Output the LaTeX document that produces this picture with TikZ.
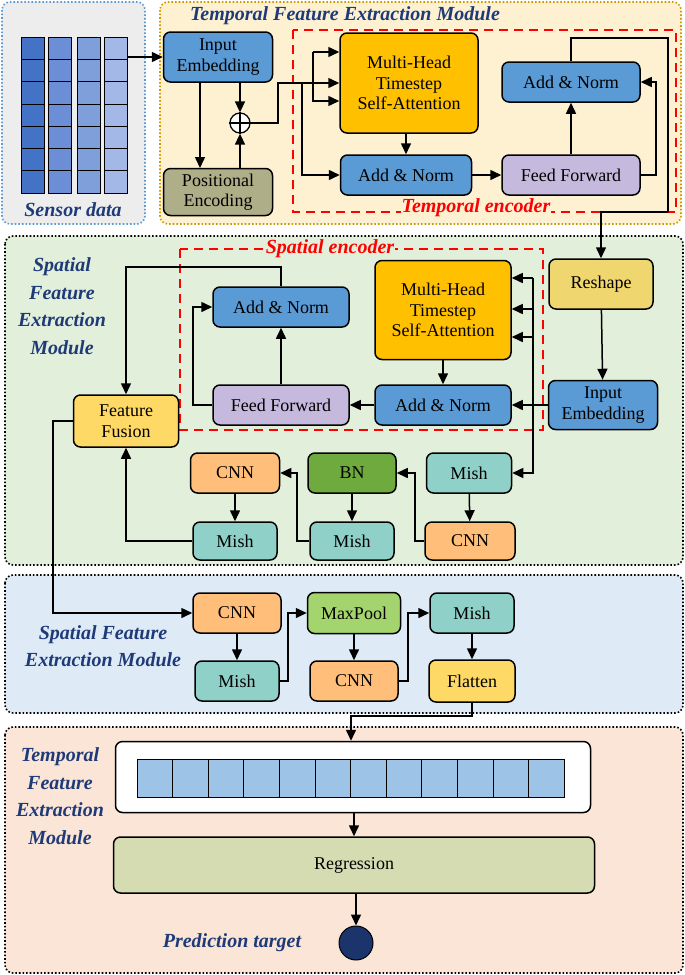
\documentclass[tikz,border=0pt]{standalone}
\usepackage{fontspec}
\setmainfont{Liberation Serif}
\usetikzlibrary{arrows.meta,calc}
\definecolor{bBlue}{HTML}{5B9BD5}
\definecolor{bOrange}{HTML}{FFC000}
\definecolor{bLav}{HTML}{C5B9DD}
\definecolor{bOlive}{HTML}{AEAE88}
\definecolor{bSalmon}{HTML}{FFBE7A}
\definecolor{bTeal}{HTML}{8FD0C8}
\definecolor{bGreen}{HTML}{6FAA3E}
\definecolor{bLGreen}{HTML}{A4D46E}
\definecolor{bYellow}{HTML}{FFD966}
\definecolor{bReshape}{HTML}{EFD66E}
\definecolor{bCell}{HTML}{9DC3E6}
\definecolor{bReg}{HTML}{D5DCB2}
\definecolor{navy}{HTML}{1F3A78}
\definecolor{pGray}{HTML}{EDEDED}
\definecolor{pYel}{HTML}{FDF1D2}
\definecolor{pGreen}{HTML}{E2EFDA}
\definecolor{pBlue}{HTML}{DEEBF7}
\definecolor{pPeach}{HTML}{FBE5D6}
\begin{document}
\begin{tikzpicture}[x=1pt,y=-1pt,
  box/.style={draw=black,line width=1.5pt,rounded corners=7pt,align=center,font=\fontsize{18}{20.5}\selectfont,inner sep=1pt},
  panel/.style={line width=1.6pt,dotted,rounded corners=8pt},
  ttl/.style={font=\bfseries\itshape\fontsize{20}{27.5}\selectfont,text=navy,align=center},
  enc/.style={draw=red,dashed,line width=1.2pt,dash pattern=on 9pt off 6pt},
  etl/.style={font=\bfseries\itshape\fontsize{20}{22}\selectfont,text=red,fill=#1,inner sep=1pt},
  ar/.style={-{Triangle[length=11pt,width=10pt]},line width=1.5pt},
  ln/.style={line width=1.5pt}]
\useasboundingbox (0,0) rectangle (685,975);
% panels
\draw[panel,draw=bBlue,fill=pGray] (2,2) rectangle (145,224);
\draw[panel,draw=bOrange!80!black,fill=pYel] (160,2) rectangle (681,224);
\draw[panel,fill=pGreen] (5,236) rectangle (683,565);
\draw[panel,fill=pBlue] (5,575) rectangle (683,713);
\draw[panel,fill=pPeach] (5,727) rectangle (683,973);
% sensor columns
\foreach \xa/\c in {21/4472C4,48/6C8ED6,77/7F9FDB,104/A3B8E6}{
  \definecolor{cc}{HTML}{\c}
  \foreach \r in {0,...,6}{
    \draw[fill=cc,line width=0.8pt] (\xa,37+\r*22.3) rectangle (\xa+23,37+\r*22.3+22.3);}}
\node[ttl] (sd) at (73,210) {Sensor data};
\coordinate (sdr) at (127,57);
\node[ttl] (t1) at (345,16) {Temporal Feature Extraction Module};
% temporal encoder box
\draw[enc] (293,30) rectangle (676,212);
\node[etl=pYel] (tel) at (476,208) {Temporal encoder};
\node[box,fill=bBlue,minimum width=109pt,minimum height=50pt] (ie1) at (218,57) {Input\\Embedding};
\node[box,fill=bOlive,minimum width=109pt,minimum height=47pt] (pe) at (218,192) {Positional\\Encoding};
\node[draw,circle,line width=1.3pt,minimum size=20pt,inner sep=0pt,fill=white] (op) at (240,123) {};
\draw[line width=1.2pt] (op.north)--(op.south) (op.west)--(op.east);
\node[box,fill=bOrange,minimum width=138pt,minimum height=100pt] (mha1) at (409,83) {Multi-Head\\Timestep\\Self-Attention};
\node[box,fill=bBlue,minimum width=131pt,minimum height=40pt] (an1) at (406,175) {Add \& Norm};
\node[box,fill=bLav,minimum width=138pt,minimum height=40pt] (ff1) at (571,175) {Feed Forward};
\node[box,fill=bBlue,minimum width=138pt,minimum height=40pt] (an2) at (571,82) {Add \& Norm};
\draw[ar] (sdr) -- (ie1.west|-sdr);
\draw[ar] (200,82) -- (200,168);
\draw[ar] (240,82) -- (op.north);
\draw[ar] (240,168) -- (op.south);
\draw[ln] (op.east) -- (278,123) -- (278,83) -- (313,83);
\draw[ar] (302,83) |- (an1.west);
\draw[ar] (313,52) -- (mha1.west|-0,52);
\draw[ar] (313,83) -- (mha1.west|-0,83);
\draw[ar] (313,52) -- (313,101) -- (mha1.west|-0,101);
\draw[ar] (mha1.south-|an1) -- (an1.north);
\draw[ar] (an1) -- (ff1);
\draw[ar] (ff1) -- (an2);
\draw[ar] (ff1.east) -- (656,175) -- (656,82) -- (an2.east);
% section 2
\node[ttl] (t2) at (62,306) {Spatial\\Feature\\Extraction\\Module};
\draw[enc] (180,249) rectangle (543,430);
\node[etl=pGreen] (sel) at (330,249) {Spatial encoder};
\node[box,fill=bReshape,minimum width=104pt,minimum height=50pt] (rs) at (601,284) {Reshape};
\node[box,fill=bBlue,minimum width=109pt,minimum height=49pt] (ie2) at (603,405) {Input\\Embedding};
\node[box,fill=bOrange,minimum width=136pt,minimum height=99pt] (mha2) at (443,310) {Multi-Head\\Timestep\\Self-Attention};
\node[box,fill=bBlue,minimum width=136pt,minimum height=40pt] (an3) at (443,405) {Add \& Norm};
\node[box,fill=bLav,minimum width=136pt,minimum height=40pt] (ff2) at (281,405) {Feed Forward};
\node[box,fill=bBlue,minimum width=136pt,minimum height=40pt] (an4) at (281,307) {Add \& Norm};
\node[box,fill=bYellow,minimum width=105pt,minimum height=52pt] (fu) at (126,421) {Feature\\Fusion};
\node[box,fill=bSalmon,minimum width=89pt,minimum height=40pt] (cnn1) at (235,473) {CNN};
\node[box,fill=bGreen,minimum width=88pt,minimum height=40pt] (bn) at (352,473) {BN};
\node[box,fill=bTeal,minimum width=85pt,minimum height=40pt] (mi1) at (469,473) {Mish};
\node[box,fill=bTeal,minimum width=84pt,minimum height=38pt] (mi2) at (235,541) {Mish};
\node[box,fill=bTeal,minimum width=84pt,minimum height=38pt] (mi3) at (352,541) {Mish};
\node[box,fill=bSalmon,minimum width=90pt,minimum height=38pt] (cnn2) at (470,541) {CNN};
\draw[ar] (668,212) -- (601,212) -- (rs.north);
\draw[ln] (an2.north) -- (571,38) -- (668,38) -- (668,212);
\draw[ar] (rs) -- (ie2);
\draw[ar] (ie2.west) -- (an3.east);
\draw[ln] (533,405) -- (533,278);
\draw[ar] (533,278) -- (mha2.east|-0,278);
\draw[ar] (533,309) -- (mha2.east|-0,309);
\draw[ar] (533,337) -- (mha2.east|-0,337);
\draw[ar] (533,405) |- (mi1.east);
\draw[ar] (mha2) -- (an3);
\draw[ar] (an3) -- (ff2);
\draw[ar] (ff2) -- (an4);
\draw[ar] (ff2.west) -- (193,405) |- (an4.west);
\draw[ar] (an4.north) -- (281,267) -| (fu.north);
\draw[ar] (mi1) -- (cnn2);
\draw[ar] (cnn2.west) -- (415,541) |- (bn.east);
\draw[ar] (bn) -- (mi3);
\draw[ar] (mi3.west) -- (297,541) |- (cnn1.east);
\draw[ar] (cnn1) -- (mi2);
\draw[ar] (mi2.west) -| (fu.south);
% section 3
\node[ttl] (t3) at (103,646) {Spatial Feature\\Extraction Module};
\node[box,fill=bSalmon,minimum width=88pt,minimum height=40pt] (cnn3) at (237,613) {CNN};
\node[box,fill=bTeal,minimum width=84pt,minimum height=40pt] (mi4) at (237,681) {Mish};
\node[box,fill=bLGreen,minimum width=93pt,minimum height=41pt] (mp) at (354,613) {MaxPool};
\node[box,fill=bSalmon,minimum width=88pt,minimum height=40pt] (cnn4) at (354,681) {CNN};
\node[box,fill=bTeal,minimum width=84pt,minimum height=40pt] (mi5) at (472,613) {Mish};
\node[box,fill=bYellow,minimum width=86pt,minimum height=42pt] (fl) at (472,681) {Flatten};
\draw[ar] (fu.west) -- (53,421) |- (cnn3.west);
\draw[ar] (cnn3) -- (mi4);
\draw[ar] (mi4.east) -- (288,681) |- (mp.west);
\draw[ar] (mp) -- (cnn4);
\draw[ar] (cnn4.east) -- (408,681) |- (mi5.west);
\draw[ar] (mi5) -- (fl);
% section 4
\node[ttl] (t4) at (60,796) {Temporal\\Feature\\Extraction\\Module};
\node[box,fill=white,minimum width=475pt,minimum height=71pt] (seq) at (353,777) {};
\foreach \i in {0,...,11}{
  \draw[fill=bCell,line width=1pt] (137+\i*35.6,759) rectangle (137+\i*35.6+35.6,797);}
\node[box,fill=bReg,minimum width=481pt,minimum height=56pt] (reg) at (354,865) {Regression};
\node[circle,draw=black,line width=1pt,fill=navy!90!black,minimum width=34pt,minimum height=32pt,inner sep=0pt] (pt) at (356,943) {};
\node[ttl] (ptl) at (232,943) {Prediction target};
\draw[ar] (fl.south) -- (472,716) -- (351,716) -- (seq.north-|351,0);
\draw[ar] (seq.south-|354,0) -- (reg.north-|354,0);
\draw[ar] (reg.south-|356,0) -- (pt.north);
\end{tikzpicture}
\end{document}
